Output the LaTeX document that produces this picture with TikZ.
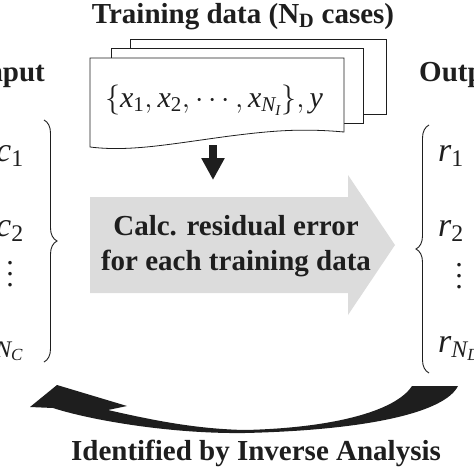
\RequirePackage{fix-cm}
\documentclass[tikz,border=0pt]{standalone}
\usepackage{mathspec}
\setmainfont{Liberation Serif}
\setmathsfont(Digits,Latin)[Lowercase=Italic,Uppercase=Italic]{Liberation Serif}
\usetikzlibrary{arrows.meta,decorations.pathreplacing}
\definecolor{arrowgray}{HTML}{DCDCDC}
\definecolor{ink}{HTML}{1E1E1E}
\tikzset{
  lbl/.style={font=\fontsize{29}{35}\selectfont\bfseries, text=ink, inner sep=0pt},
  mth/.style={font=\fontsize{34}{40}\selectfont, text=ink, inner sep=0pt},
  vdotsbox/.style={font=\fontsize{30}{11}\selectfont, text=ink, inner sep=0pt, align=center},
  sheet/.style={draw=ink, line width=0.8pt, fill=white},
  bracestyle/.style={draw=ink, line width=0.9pt, decorate, decoration={brace, amplitude=13pt}},
}
\begin{document}
\begin{tikzpicture}[x=1pt,y=-1pt]
\useasboundingbox (0,0) rectangle (474,474);
\clip (0,0) rectangle (474,474);
% title
\node[lbl, anchor=base] (title) at (243,23) {Training data (N\textsubscript{D} cases)};
% document stack
\draw[sheet] (130,39) rectangle (386,114);
\draw[sheet] (111,48) rectangle (363,123);
\draw[sheet] (90,147) -- (90,58) -- (344,58) -- (344,132)
  .. controls (300,128) and (270,131) .. (230,136)
  .. controls (170,144) and (130,152) .. (90,147) -- cycle;
\node[mth, font=\fontsize{30}{36}\selectfont] (data) at (214,100) {$\Bigg\{x_1, x_2, \cdots, x_{N_I}\Bigg\}, y$};
\coordinate (docbot) at (213,145);
% down arrow
\draw[ink, fill=ink, line width=8pt, -{Triangle[width=22pt,length=22pt]}] (docbot) -- (213,180) coordinate (dtip);
% big grey arrow
\fill[arrowgray] (90,197) -- (348,197) -- (348,175) -- (395,245) -- (348,315) -- (348,293) -- (90,293) -- cycle;
\node[lbl, align=center] (calc) at (236,246) {Calc. residual error\\for each training data};
% headings
\node[lbl, anchor=base east] (inp) at (45,81) {Input};
\node[lbl, anchor=base west] (outp) at (419,81) {Output};
% braces
\coordinate (lbt) at (44,120);
\coordinate (lbb) at (44,362);
\draw[bracestyle] (lbt) -- (lbb);
\coordinate (rbb) at (429,373);
\coordinate (rbt) at (429,125);
\draw[bracestyle] (rbb) -- (rbt);
% left items
\node[mth, anchor=base west] (c1) at (-4,161) {$c_1$};
\node[mth, anchor=base west] (c2) at (-4,236) {$c_2$};
\node[vdotsbox] (cd) at (10,274) {.\\.\\.};
\node[mth, anchor=base west] (cn) at (-20,352) {$c_{N_C}$};
% right items
\node[mth, anchor=base west] (r1) at (438,161) {$r_1$};
\node[mth, anchor=base west] (r2) at (438,236) {$r_2$};
\node[vdotsbox] (rd) at (459,276) {.\\.\\.};
\node[mth, anchor=base west] (rn) at (438,352) {$r_{N_D}$};
% curved return arrow
\fill[ink] (30,407) -- (57,385) -- (127,406) -- (108,410)
  .. controls (160,422) and (200,429) .. (245,430)
  .. controls (330,428) and (395,412) .. (412,386)
  -- (458,386)
  .. controls (445,412) and (370,430) .. (245,433)
  .. controls (170,434) and (90,420) .. (53,408) -- cycle;
\node[lbl, anchor=base] (inv) at (256,460) {Identified by Inverse Analysis};
\end{tikzpicture}
\end{document}
